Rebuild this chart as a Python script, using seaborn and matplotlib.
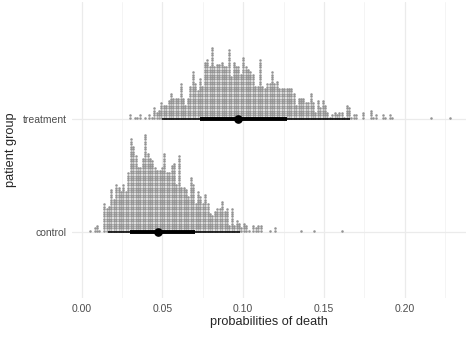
import numpy as np
import pandas as pd
import seaborn as sns
import matplotlib.pyplot as plt
from matplotlib.ticker import MultipleLocator

# dot columns (dots per bin, left to right)
groups = ['control', 'treatment']
bin_width = 0.00149

control_start = 0.005
control_counts = [1, 0, 2, 3, 1, 0, 12, 10, 11, 18,
                  14, 20, 19, 17, 20, 17, 25, 39, 36, 32,
                  27, 27, 31, 41, 33, 31, 30, 27, 26, 26,
                  27, 33, 25, 25, 28, 29, 20, 32, 19, 19,
                  18, 15, 23, 20, 12, 17, 15, 12, 16, 12,
                  8, 7, 9, 10, 10, 13, 9, 10, 3, 10,
                  3, 5, 4, 2, 4, 3, 1, 0, 3, 2,
                  3, 3, 0, 0, 0, 1, 0, 2, 0, 0,
                  0, 0, 0, 0, 0, 0, 0, 0, 1, 0,
                  0, 0, 0, 1, 0, 0, 0, 0, 0, 0,
                  0, 0, 0, 0, 0, 1]

treatment_start = 0.030
treatment_counts = [2, 0, 1, 1, 2, 0, 1, 0, 2, 1,
                    5, 3, 4, 7, 6, 6, 8, 11, 9, 9,
                    9, 15, 9, 6, 9, 14, 20, 15, 12, 17,
                    14, 24, 25, 22, 30, 22, 23, 23, 24, 22,
                    22, 29, 18, 24, 22, 22, 19, 26, 22, 21,
                    20, 19, 14, 14, 25, 14, 13, 15, 15, 20,
                    15, 16, 13, 13, 13, 13, 13, 13, 11, 6,
                    9, 9, 9, 7, 7, 11, 7, 3, 8, 5,
                    8, 6, 3, 1, 2, 3, 2, 3, 3, 1,
                    6, 5, 1, 2, 2, 0, 0, 3, 0, 0,
                    4, 1, 2, 0, 0, 2, 1, 0, 2, 1,
                    0, 0, 0, 0, 0, 0, 0, 0, 0, 0,
                    0, 0, 0, 0, 0, 1, 0, 0, 0, 0,
                    0, 0, 0, 1]

# point summary and intervals (66% thick, 95% thin)
medians = [0.047, 0.0966]
inner_lo = [0.030, 0.073]
inner_hi = [0.070, 0.127]
outer_lo = [0.016, 0.050]
outer_hi = [0.098, 0.166]

sns.set_theme(style='whitegrid')
plt.rcParams['font.family'] = ['Liberation Sans', 'DejaVu Sans']

fig = plt.figure(figsize=(4.74, 3.38), dpi=100)
ax = fig.add_axes([0.152, 0.118, 0.831, 0.876])
ax.set_xlim(-0.006, 0.238)
ax.set_ylim(0.416, 3.035)

# vertical step so that dots stack as round as they sit side by side
bbox = ax.get_window_extent()
px_x = bbox.width / (ax.get_xlim()[1] - ax.get_xlim()[0])
px_y = bbox.height / (ax.get_ylim()[1] - ax.get_ylim()[0])
dy = bin_width * px_x / px_y

rows = []
for pos, (start, counts) in enumerate([(control_start, control_counts),
                                       (treatment_start, treatment_counts)], start=1):
    for i, n in enumerate(counts):
        for k in range(n):
            rows.append({'x': start + i * bin_width, 'y': pos + (k + 0.5) * dy})
dots = pd.DataFrame(rows)

sns.scatterplot(data=dots, x='x', y='y', s=3.3, color='#939393',
                linewidth=0, ax=ax, zorder=3)

for pos in range(len(groups)):
    ax.plot([outer_lo[pos], outer_hi[pos]], [pos + 1, pos + 1], color='black',
            lw=1.1, solid_capstyle='butt', zorder=4)
    ax.plot([inner_lo[pos], inner_hi[pos]], [pos + 1, pos + 1], color='black',
            lw=2.8, solid_capstyle='butt', zorder=4)
    ax.plot(medians[pos], pos + 1, 'o', color='black', ms=5.2, zorder=5)

ax.set_yticks([1, 2])
ax.set_yticklabels(groups)
ax.xaxis.set_major_locator(MultipleLocator(0.05))
ax.xaxis.set_minor_locator(MultipleLocator(0.025))
ax.set_xticks([0, 0.05, 0.10, 0.15, 0.20])
ax.set_xticklabels(['0.00', '0.05', '0.10', '0.15', '0.20'])
ax.grid(which='major', color='#ebebeb', lw=0.9)
ax.grid(which='minor', axis='x', color='#f2f2f2', lw=0.6)
ax.tick_params(length=0, labelsize=7.5, colors='#4d4d4d', pad=4)
for s in ax.spines.values():
    s.set_visible(False)
ax.set_facecolor('white')

ax.set_xlabel('probabilities of death', fontsize=9.2, labelpad=2)
ax.set_ylabel('patient group', fontsize=9.2, labelpad=4)

fig.savefig('out.png', dpi=100)
